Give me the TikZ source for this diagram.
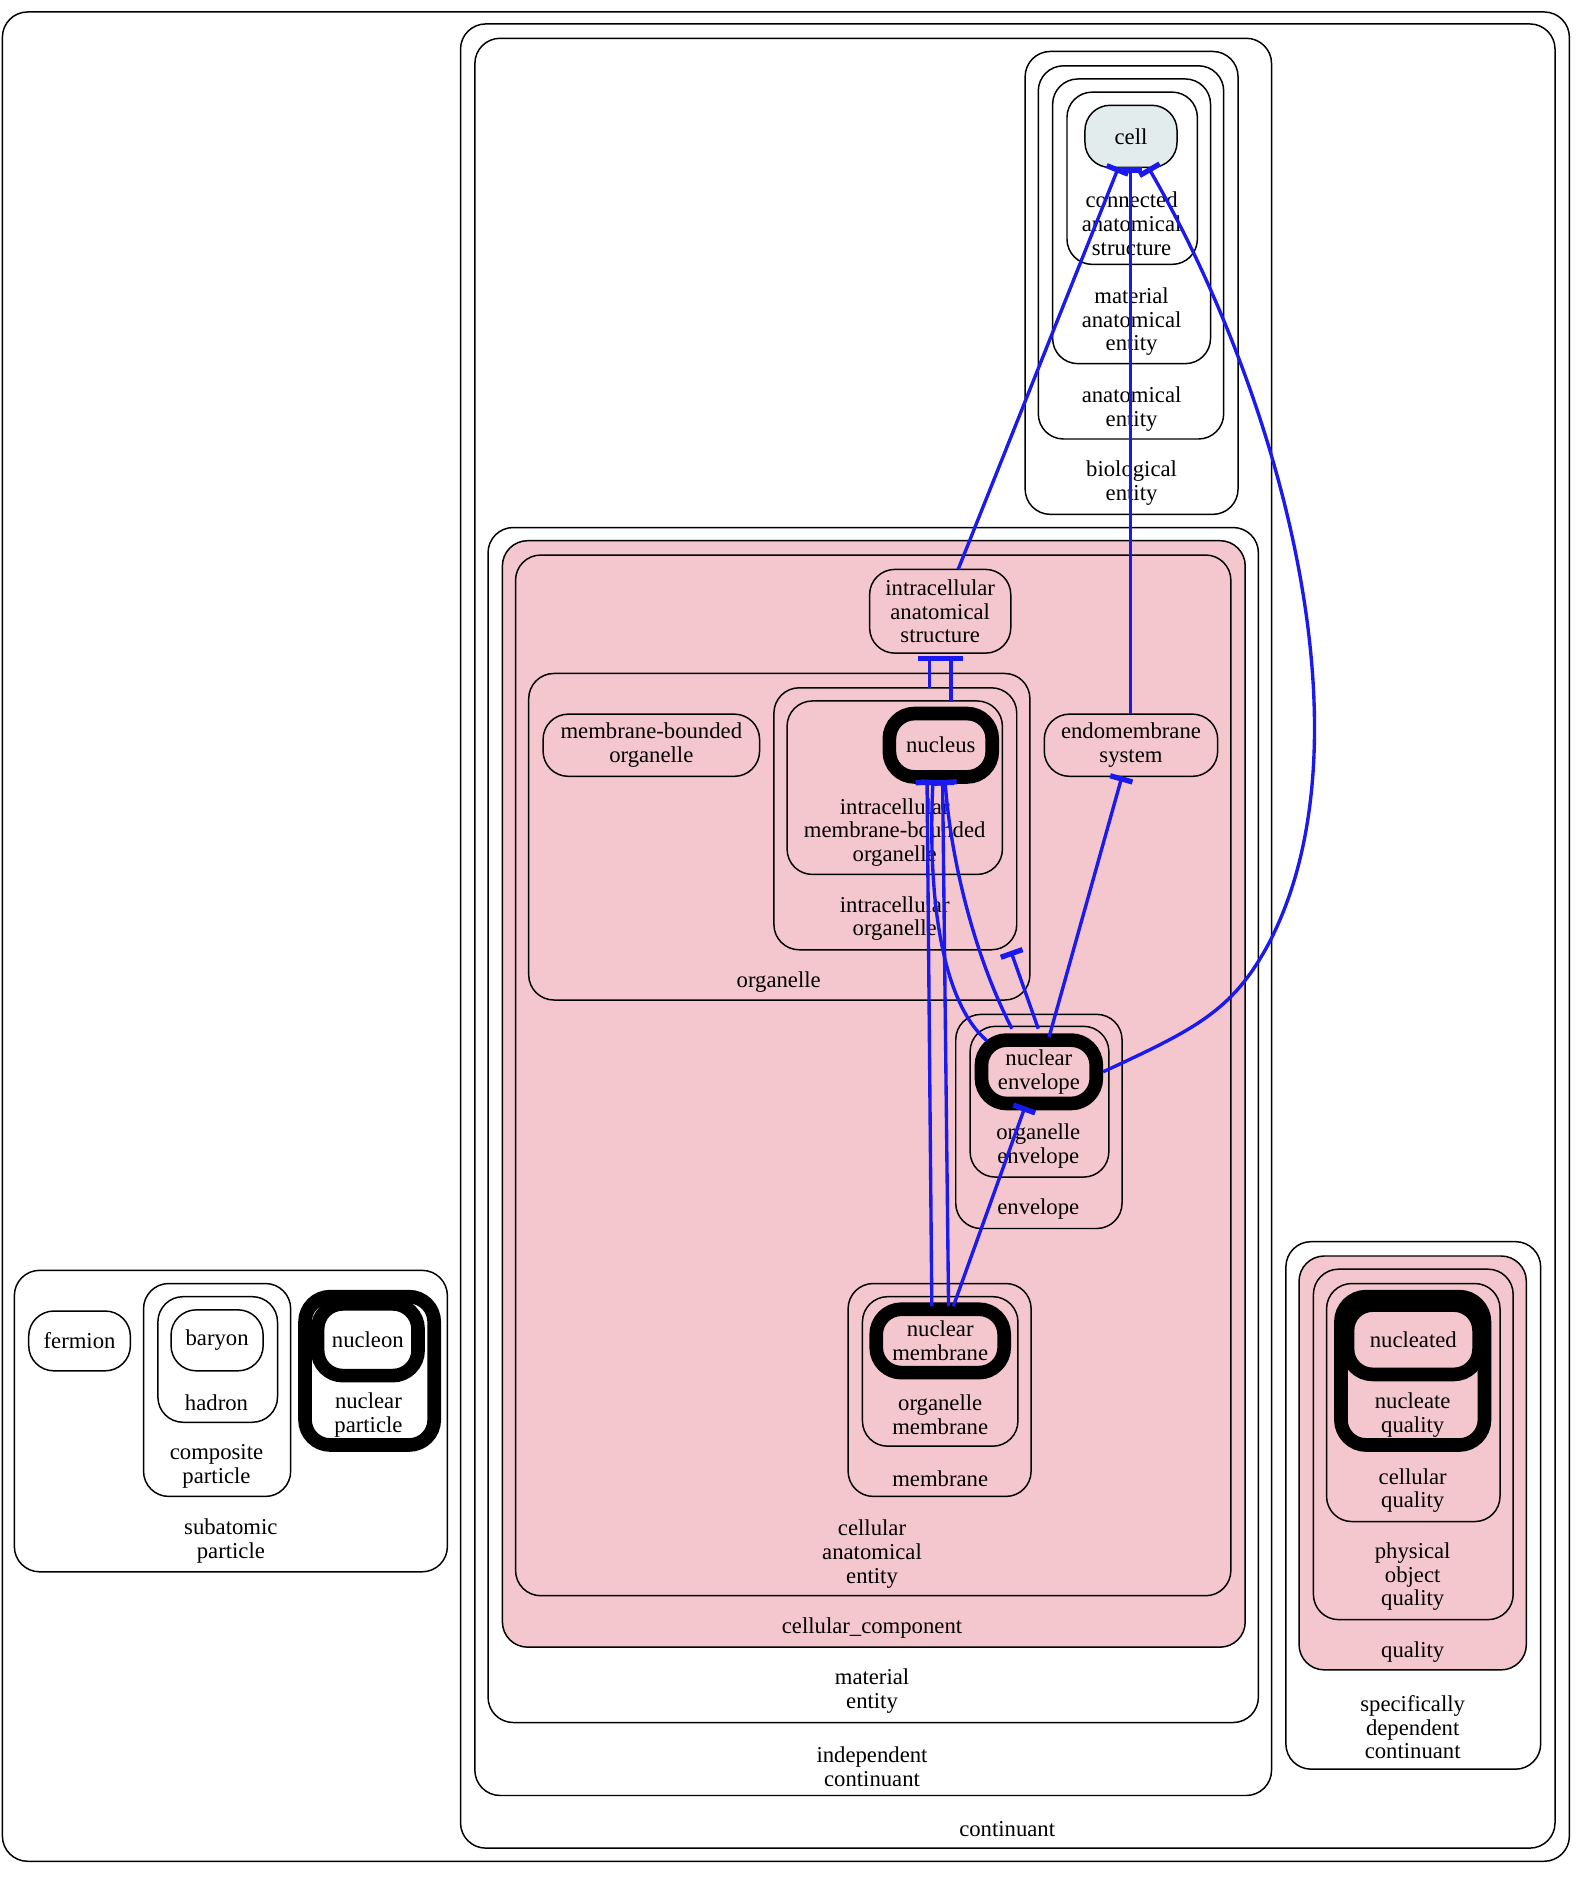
\documentclass[tikz,border=0pt]{standalone}
\usepackage{fontspec}
\setmainfont{Liberation Serif}
\usetikzlibrary{fit,arrows.meta}
\definecolor{pinkc}{HTML}{F4C6CE}
\definecolor{cellc}{HTML}{E2ECEC}
\definecolor{edgec}{HTML}{1A1AF0}
\tikzset{
 cl/.style={draw,rounded corners=12pt,inner sep=0pt,line width=0.7pt},
 thk/.style={line width=6.5pt},
 lab/.style={align=center,font=\fontsize{10.8}{11.3}\selectfont,inner sep=0pt},
 edge/.style={draw=edgec,line width=1.6pt,-{Bar[width=11pt,line width=2.5pt]}},
}
\newcommand{\clus}[6][]{\node[cl,#1,fit={(#3,-#4)(#5,-#6)}] (#2) {};}
\begin{document}
\begin{tikzpicture}[x=0.02cm,y=0.02cm]
\useasboundingbox (0,0) rectangle (1320,-1570);
\clus{root}{2}{10}{1312}{1556}
\clus{continuant}{385}{20}{1300}{1545}
\node[lab] (l1) at (842,-1529) {continuant};
% subatomic
\clus{subat}{12}{1062}{374}{1314}
\node[lab] (l2) at (193,-1288) {subatomic\\particle};
\node[cl,lab,minimum width=85*0.02cm,minimum height=50*0.02cm,inner sep=0pt] (fermion) at (66.5,-1121) {fermion};
\clus{comp}{120}{1073}{243}{1251}
\node[lab] (l3) at (181,-1226) {composite\\particle};
\clus{hadron}{132}{1084}{232}{1189}
\node[lab] (l4) at (181,-1173) {hadron};
\node[cl,lab,minimum width=77*0.02cm,minimum height=51*0.02cm] (baryon) at (181.5,-1120.5) {baryon};
\clus[thk]{nucpart}{255}{1084}{363}{1208}
\node[lab] (l5) at (308,-1183) {nuclear\\particle};
\node[cl,thk,lab,minimum width=84*0.02cm,minimum height=60*0.02cm] (nucleon) at (307.5,-1120) {nucleon};
% independent continuant
\clus{indep}{397}{32}{1063}{1501}
\node[lab] (l6) at (729,-1477) {independent\\continuant};
\clus{bio}{857}{43}{1035}{430}
\node[lab] (l7) at (946,-404) {biological\\entity};
\clus{anat}{868}{55}{1023}{367}
\node[lab] (l8) at (946,-342) {anatomical\\entity};
\clus{matanat}{880}{66}{1012}{304}
\node[lab] (l9) at (946,-269) {material\\anatomical\\entity};
\clus{conn}{892}{77}{1001}{221}
\node[lab] (l10) at (946,-187) {connected\\anatomical\\structure};
\node[cl,lab,fill=cellc,minimum width=77*0.02cm,minimum height=52*0.02cm] (cell) at (945.5,-114) {cell};
\clus{matent}{408}{441}{1052}{1440}
\node[lab] (l11) at (729,-1414) {material\\entity};
\clus[fill=pinkc]{cc}{420}{452}{1041}{1377}
\node[lab] (l12) at (729,-1361) {cellular\_component};
\clus{cae}{431}{464}{1029}{1334}
\node[lab] (l13) at (729,-1299) {cellular\\anatomical\\entity};
\node[cl,lab,minimum width=118*0.02cm,minimum height=70*0.02cm] (ias) at (786,-511) {intracellular\\anatomical\\structure};
\clus{org}{442}{563}{861}{836}
\node[lab] (l14) at (651,-821) {organelle};
\node[cl,lab,minimum width=181*0.02cm,minimum height=52*0.02cm] (mbo) at (544.5,-623) {membrane-bounded\\organelle};
\clus{io}{647}{575}{850}{794}
\node[lab] (l15) at (748,-768) {intracellular\\organelle};
\clus{imbo}{658}{586}{838}{731}
\node[lab] (l16) at (748,-696) {intracellular\\membrane-bounded\\organelle};
\node[cl,thk,lab,minimum width=86*0.02cm,minimum height=53*0.02cm] (nucleus) at (786.5,-623) {nucleus};
\node[cl,lab,minimum width=145*0.02cm,minimum height=52*0.02cm] (endo) at (945.5,-623) {endomembrane\\system};
\clus{env}{799}{848}{938}{1027}
\node[lab] (l17) at (868,-1011) {envelope};
\clus{oenv}{811}{858}{927}{984}
\node[lab] (l18) at (868,-958) {organelle\\envelope};
\node[cl,thk,lab,minimum width=96*0.02cm,minimum height=53*0.02cm] (nenv) at (868.5,-896) {nuclear\\envelope};
\clus{memb}{709}{1073}{862}{1251}
\node[lab] (l19) at (786,-1236) {membrane};
\clus{omemb}{721}{1084}{851}{1209}
\node[lab] (l20) at (786,-1183) {organelle\\membrane};
\node[cl,thk,lab,minimum width=107*0.02cm,minimum height=53*0.02cm] (nmemb) at (786,-1121) {nuclear\\membrane};
% specifically dependent continuant
\clus{sdc}{1075}{1038}{1288}{1479}
\node[lab] (l21) at (1181,-1444) {specifically\\dependent\\continuant};
\clus[fill=pinkc]{quality}{1086}{1050}{1276}{1396}
\node[lab] (l22) at (1181,-1381) {quality};
\clus{poq}{1098}{1061}{1265}{1354}
\node[lab] (l23) at (1181,-1318) {physical\\object\\quality};
\clus{cq}{1109}{1073}{1254}{1272}
\node[lab] (l24) at (1181,-1246) {cellular\\quality};
\clus[thk]{nq}{1121}{1084}{1241}{1208}
\node[lab] (l25) at (1181,-1183) {nucleate\\quality};
\node[cl,thk,lab,minimum width=110*0.02cm,minimum height=58*0.02cm] (nucleated) at (1181.5,-1120) {nucleated};
% edges
\coordinate (c1) at (935,-140);
\coordinate (c2) at (945,-140);
\coordinate (c3) at (960,-140);
\draw[edge] (801,-476) -- (c1);
\draw[edge] (945,-597) -- (c2);
\draw[edge] (nenv.east) .. controls (1000,-860) and (1030,-845) .. (1060,-790) .. controls (1150,-620) and (1070,-330) .. (c3);
\draw[edge] (777,-575) -- (777,-548);
\draw[edge] (795,-587) -- (795,-548);
\draw[edge] (779,-1092) -- (775,-652);
\draw[edge] (793,-1092) -- (788,-652);
\draw[edge] (825,-870) .. controls (790,-840) and (775,-760) .. (780,-652);
\draw[edge] (846,-860) .. controls (815,-800) and (795,-720) .. (790,-652);
\draw[edge] (868,-860) -- (845,-795);
\draw[edge] (877,-867) -- (938,-649);
\draw[edge] (797,-1092) -- (857,-925);
\end{tikzpicture}
\end{document}
